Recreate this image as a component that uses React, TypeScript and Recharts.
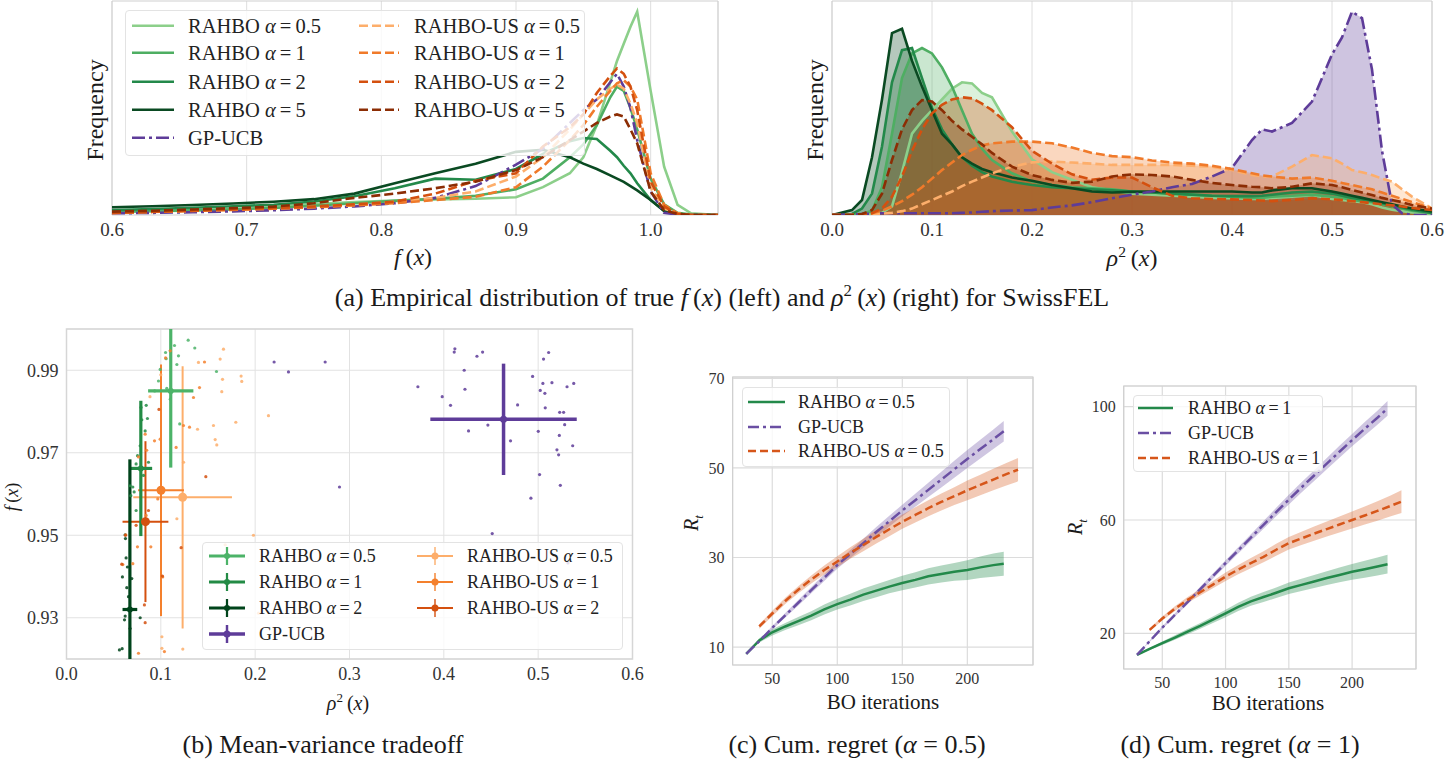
import React from 'react';
import { ComposedChart, Line, Area, Scatter, ErrorBar, XAxis, YAxis, CartesianGrid, ReferenceArea } from 'recharts';

const SERIF = "'Liberation Serif', 'Times New Roman', Tinos, 'DejaVu Serif', serif";

// ---------- (a) left: distribution of f(x) ----------
const fGrid = [0.6, 0.63, 0.66, 0.69, 0.72, 0.75, 0.78, 0.81, 0.84, 0.87, 0.9, 0.92, 0.94, 0.95, 0.96, 0.97, 0.975, 0.98, 0.985, 0.99, 1.0, 1.01, 1.02, 1.03, 1.05];
const fRahbo05 = [1.6, 1.9, 2.0, 2.6, 3.6, 5.1, 6.1, 6.7, 7.3, 7.6, 8.3, 13, 19.5, 27, 42, 62, 72, 80, 88, 95, 58, 22.6, 4.7, 0.8, 0];
const fRahbo1 = [1.5, 1.8, 2.2, 2.7, 3.3, 4.3, 5.5, 6.6, 7.6, 9, 12, 17, 27, 33, 42, 55, 60, 58, 50, 40, 17, 5, 1, 0.2, 0];
const fRahbo2 = [2.3, 2.8, 3.4, 4.1, 4.8, 6.3, 8.8, 12.5, 17, 16.5, 21.5, 28.5, 34.5, 36, 35.5, 30, 27, 23, 19.5, 14.8, 7, 2, 0.3, 0, 0];
const fRahbo5 = [3.6, 4.1, 4.7, 5.4, 6.2, 7.4, 10, 14.8, 19.5, 24, 29.5, 30.5, 27, 24, 21.5, 18.5, 17, 15.5, 13.5, 11.5, 7, 1.8, 0.3, 0, 0];
const fGpucb = [0.8, 1, 1.3, 1.7, 2.2, 3, 4, 5.5, 8, 13.5, 23.5, 31, 43, 49, 54, 62, 66, 60, 50, 35, 11, 1, 0.2, 0, 0];
const fUs05 = [1, 1.5, 2, 2.5, 3, 3.8, 4.8, 6.2, 8, 11, 18, 27, 40, 47, 54, 59, 61, 59, 52, 43, 13, 3, 0.8, 0, 0];
const fUs1 = [1, 1.4, 1.9, 2.4, 2.9, 3.6, 4.5, 5.5, 7, 8.5, 13, 22.6, 35, 42, 50.6, 58, 61.5, 63, 60, 54, 19.5, 4.7, 0.8, 0, 0];
const fUs2 = [1, 1.5, 2.1, 2.7, 3.3, 4, 5, 6.2, 10, 16, 19.5, 32, 41, 47, 57, 65, 68.5, 66, 60, 49, 15.6, 4, 0.5, 0, 0];
const fUs5 = [1.6, 2, 2.6, 3.2, 3.9, 5.5, 8, 10, 12.5, 15.6, 21, 27, 35, 39, 43, 46, 47, 46, 40, 33.5, 11, 2.3, 0.5, 0, 0];
const fTicks = [0.6, 0.7, 0.8, 0.9, 1.0];

// ---------- (a) right: distribution of rho^2(x) ----------
const rGrid = [0, 0.02, 0.03, 0.04, 0.05, 0.06, 0.07, 0.08, 0.09, 0.1, 0.11, 0.12, 0.13, 0.14, 0.15, 0.16, 0.18, 0.2, 0.22, 0.24, 0.26, 0.28, 0.3, 0.32, 0.34, 0.36, 0.38, 0.4, 0.42, 0.43, 0.44, 0.46, 0.48, 0.5, 0.51, 0.52, 0.53, 0.54, 0.55, 0.56, 0.57, 0.58, 0.6];
const rRahbo05 = [0, 0, 0, 0.3, 1, 4, 20, 38, 44, 49, 54, 59, 62, 61.5, 57, 55, 39, 26, 20, 16.5, 13, 11.5, 10, 9.5, 9, 8.5, 8, 7.8, 7.5, 7.5, 8, 8.5, 9.3, 7.5, 7, 6.5, 6, 5, 3.5, 2.5, 1.8, 1.2, 0.5];
const rRahbo1 = [0, 0, 0.5, 2, 13, 38, 64, 75.5, 78, 75.5, 69, 60, 49, 38, 31, 25.7, 19.5, 15.6, 14, 13, 12.5, 12, 11, 10.5, 10, 9.5, 9, 8.6, 8, 8, 8.5, 9, 9.5, 8.5, 8, 7, 6.5, 6, 5, 4, 3, 2, 0.8];
const rRahbo2 = [0, 0.5, 3, 10, 32, 62, 77, 78, 64, 50, 40, 33, 27, 23, 20, 18, 15.5, 14, 13, 12.5, 12, 11.5, 11, 10.5, 10, 9.5, 9, 8.8, 8.8, 9, 9.5, 10.5, 11, 10, 9, 8, 7.3, 6.5, 5.5, 4.5, 3.5, 2.5, 1];
const rRahbo5 = [0, 2.3, 7, 27, 54, 85, 87, 72, 60, 49, 38, 33, 27, 24, 21.5, 20, 17.5, 16, 14, 12.5, 11, 10.5, 10.8, 11, 11, 11, 11, 11, 10.5, 10.5, 11.5, 12.5, 12.5, 11, 10, 9, 8, 7, 6, 5, 4, 3, 1.6];
const rGpucb = [0, 0.3, 0.5, 0.6, 0.8, 0.8, 0.8, 0.8, 0.8, 0.8, 0.8, 0.8, 1, 1.2, 1.5, 1.8, 2.1, 2.3, 3.5, 4.5, 6, 7.8, 9.5, 11, 13, 14.5, 18, 22, 35, 40, 39, 43, 53, 75, 83, 95, 92, 68, 30, 5, 0.8, 0, 0];
const rUs05 = [0, 0, 0, 0.3, 0.6, 1, 1.8, 3, 5, 7, 9, 11, 13.5, 15.6, 17.5, 19.5, 22.6, 24.6, 25, 24.5, 24, 23.4, 23.4, 23.4, 23.4, 23, 22.6, 21, 18.7, 18, 18, 22.6, 28, 26.5, 24, 21, 20, 18.7, 17, 15.6, 12, 8.6, 3];
const rUs1 = [0, 0, 0.3, 0.8, 2, 4, 6.5, 9.5, 13, 17, 21, 24.5, 28, 30.5, 32.5, 33.5, 34.3, 34.3, 33.5, 31.5, 29, 27.5, 27, 25.5, 24.5, 24, 23, 21.5, 19.5, 18.5, 18, 17, 17.5, 16, 15, 14, 13, 12, 10.5, 9, 7.5, 6, 3];
const rUs2 = [0, 0, 0.3, 0.8, 3, 8.6, 18, 30, 40, 47.5, 51.5, 54, 55, 54.5, 52, 49, 41, 30, 24, 19, 16.5, 17.5, 17.5, 13, 9, 7.8, 7.5, 7.3, 7, 6.8, 6.5, 7, 7.8, 7.3, 7, 6.5, 6, 5.5, 5, 4.5, 4, 3.3, 2.3];
const rUs5 = [0, 0, 0.5, 2.3, 10, 25.7, 40, 49, 53.7, 53, 49, 44, 40, 36.6, 33, 29, 22.6, 18.7, 16.4, 15, 15.6, 18, 19, 18.7, 18, 16.4, 15, 14, 13.2, 13, 12.5, 13.2, 14.8, 14, 13, 11.7, 10.5, 9.3, 8, 7, 6, 4.7, 3];
const rTicks = [0, 0.1, 0.2, 0.3, 0.4, 0.5, 0.6];

// ---------- (b) mean-variance tradeoff ----------
const mvMeanX = [0.1105, 0.0788, 0.0672, 0.4633, 0.1231, 0.1002, 0.0837];
const mvMeanY = [0.985, 0.9662, 0.932, 0.9781, 0.9592, 0.9609, 0.9533];
const mvErrX = [0.024, 0.012, 0.0078, 0.0776, 0.0523, 0.0243, 0.0243];
const mvErrY = [[0.0186, 0.015], [0.0164, 0.0164], [0.012, 0.0364], [0.0135, 0.0135], [0.0318, 0.0318], [0.0305, 0.0305], [0.0195, 0.0195]];

const dotsRahbo05 = [[0.129, 0.9973], [0.136, 0.9954], [0.1145, 0.996], [0.11, 0.9947], [0.1187, 0.9935], [0.105, 0.9943], [0.159, 0.9897], [0.117, 0.9914], [0.0975, 0.9874], [0.1063, 0.9856], [0.11, 0.983], [0.1056, 0.9928], [0.0993, 0.9902], [0.0935, 0.985], [0.12, 0.977]];
const dotsRahbo1 = [[0.0858, 0.9783], [0.0834, 0.9753], [0.0798, 0.978], [0.0781, 0.9717], [0.0753, 0.9693], [0.0738, 0.9673], [0.0703, 0.9617], [0.0717, 0.9605], [0.0738, 0.956], [0.0869, 0.9677], [0.0816, 0.9645], [0.0682, 0.9596], [0.0674, 0.962], [0.079, 0.981], [0.0845, 0.9815]];
const dotsRahbo2 = [[0.0622, 0.9501], [0.0625, 0.9492], [0.0632, 0.9445], [0.0646, 0.9423], [0.0593, 0.9399], [0.0639, 0.9373], [0.0622, 0.9304], [0.0615, 0.9295], [0.0781, 0.93], [0.0561, 0.9222], [0.0674, 0.9274], [0.0657, 0.9351], [0.0692, 0.9395], [0.059, 0.9225]];
const dotsUs05 = [[0.1664, 0.9951], [0.1399, 0.9919], [0.1629, 0.9927], [0.1851, 0.9886], [0.1858, 0.9873], [0.1654, 0.9878], [0.1646, 0.9848], [0.1795, 0.9774], [0.1558, 0.9766], [0.1576, 0.9732], [0.1593, 0.9719], [0.2141, 0.979], [0.1982, 0.95], [0.117, 0.954], [0.1241, 0.9677], [0.1011, 0.9254], [0.2035, 0.9311], [0.1682, 0.9477], [0.1389, 0.9757], [0.1011, 0.9226], [0.1233, 0.9224], [0.1, 0.9889], [0.0885, 0.9836]];
const dotsUs1 = [[0.1463, 0.992], [0.1346, 0.9834], [0.141, 0.9858], [0.1304, 0.9762], [0.124, 0.9766], [0.1162, 0.9713], [0.0993, 0.9733], [0.0933, 0.9729], [0.0834, 0.9745], [0.085, 0.9706], [0.0763, 0.969], [0.0968, 0.9588], [0.0844, 0.9548], [0.0894, 0.9472], [0.0752, 0.9472], [0.0597, 0.9429], [0.0703, 0.9431], [0.0628, 0.9501], [0.1038, 0.9218], [0.0763, 0.9214], [0.102, 0.9399], [0.11, 0.9947], [0.105, 0.993]];
const dotsUs2 = [[0.1477, 0.9642], [0.1215, 0.947], [0.1017, 0.9401], [0.0834, 0.9288], [0.0586, 0.943], [0.0826, 0.9331], [0.0738, 0.9524], [0.0869, 0.956], [0.0625, 0.95], [0.098, 0.9805]];
const dotsGpucb = [[0.2201, 0.992], [0.2353, 0.9896], [0.2742, 0.992], [0.2894, 0.9617], [0.3725, 0.986], [0.3983, 0.9836], [0.4071, 0.9815], [0.4117, 0.9952], [0.411, 0.9944], [0.4216, 0.99], [0.4224, 0.9854], [0.4262, 0.9753], [0.4351, 0.9934], [0.4411, 0.9944], [0.4467, 0.9767], [0.4513, 0.9504], [0.4707, 0.9729], [0.4782, 0.9816], [0.4923, 0.959], [0.4941, 0.9885], [0.5001, 0.9752], [0.5015, 0.9647], [0.5057, 0.9927], [0.5111, 0.9943], [0.5075, 0.9809], [0.5022, 0.9851], [0.505, 0.9868], [0.5071, 0.9844], [0.5146, 0.987], [0.5199, 0.9707], [0.5217, 0.9695], [0.5224, 0.9742], [0.5228, 0.9798], [0.5235, 0.9621], [0.527, 0.9798], [0.5281, 0.9768], [0.5306, 0.986], [0.5366, 0.9717], [0.5377, 0.9868], [0.5316, 0.9433]];

// ---------- (c) / (d) cumulative regret ----------
const itersA = [30, 40, 50, 60, 70, 80, 90, 100, 110, 120, 130, 140, 150, 160, 170, 180, 190, 200, 210, 220, 228];
const itersUS = [40, 50, 60, 70, 80, 90, 100, 110, 120, 130, 140, 150, 160, 170, 180, 190, 200, 210, 220, 230, 239];

const cRahbo = [8.5, 11.5, 13.3, 14.6, 15.8, 17.0, 18.4, 19.6, 20.6, 21.7, 22.6, 23.5, 24.3, 25.0, 25.8, 26.3, 26.8, 27.2, 27.8, 28.3, 28.6];
const cRahboBand = [0, 0.5, 0.7, 0.8, 0.9, 1.0, 1.1, 1.2, 1.3, 1.4, 1.45, 1.5, 1.6, 1.7, 1.8, 1.9, 2.0, 2.2, 2.4, 2.6, 2.7];
const cGpucb = [8.5, 11.3, 14.3, 17.1, 19.9, 22.7, 25.5, 28.3, 30.8, 33.2, 35.7, 38.1, 40.5, 42.8, 45.1, 47.4, 49.7, 52.0, 54.2, 56.4, 58.2];
const cGpucbBand = [0, 0.3, 0.4, 0.5, 0.6, 0.7, 0.75, 0.8, 0.9, 1.0, 1.1, 1.2, 1.3, 1.45, 1.6, 1.75, 1.9, 2.0, 2.1, 2.2, 2.3];
const cUs = [14.6, 17.5, 20.3, 22.8, 25.1, 27.2, 29.1, 31.0, 32.8, 34.6, 36.3, 38.0, 39.5, 41.0, 42.4, 43.7, 45.0, 46.2, 47.4, 48.6, 49.6];
const cUsBand = [0.5, 0.6, 0.7, 0.8, 0.9, 1.0, 1.2, 1.3, 1.4, 1.5, 1.55, 1.6, 1.7, 1.8, 1.9, 2.0, 2.2, 2.3, 2.4, 2.5, 2.6];

const dRahbo = [12.4, 14.5, 16.5, 18.5, 20.6, 22.6, 24.8, 27.0, 29.3, 31.3, 32.8, 34.3, 35.9, 37.1, 38.3, 39.5, 40.6, 41.7, 42.6, 43.6, 44.4];
const dRahboBand = [0, 0.4, 0.6, 0.8, 0.9, 1.0, 1.15, 1.3, 1.45, 1.6, 1.75, 1.85, 2.0, 2.15, 2.3, 2.45, 2.6, 2.8, 3.0, 3.2, 3.3];
const dGpucb = [12.4, 17.2, 22.0, 26.5, 31.0, 35.6, 40.2, 44.8, 49.3, 53.8, 58.3, 62.8, 67.2, 71.5, 75.7, 79.9, 84.1, 88.2, 92.2, 96.1, 99.4];
const dGpucbBand = [0, 0.3, 0.45, 0.6, 0.7, 0.8, 0.9, 1.0, 1.1, 1.2, 1.35, 1.5, 1.7, 1.8, 1.9, 2.0, 2.1, 2.2, 2.35, 2.5, 2.6];
const dUs = [21.2, 25.2, 28.7, 31.8, 34.5, 37.2, 40.0, 42.5, 44.8, 47.0, 49.5, 51.8, 53.5, 55.2, 56.8, 58.4, 60.0, 61.6, 63.2, 64.9, 66.5];
const dUsBand = [0.5, 0.7, 0.85, 1.0, 1.15, 1.3, 1.5, 1.65, 1.8, 1.95, 2.1, 2.2, 2.35, 2.5, 2.65, 2.8, 3.0, 3.2, 3.45, 3.7, 4.0];

// ---------- styling ----------
const DASH = '9 4';
const DASHDOT = '13 4 3 4';

const topSeries = [
  { key: 'r05', name: 'RAHBO', alpha: '0.5', color: '#8ccf8a', dash: undefined, f: fRahbo05, r: rRahbo05 },
  { key: 'r1', name: 'RAHBO', alpha: '1', color: '#4eae62', dash: undefined, f: fRahbo1, r: rRahbo1 },
  { key: 'r2', name: 'RAHBO', alpha: '2', color: '#23894a', dash: undefined, f: fRahbo2, r: rRahbo2 },
  { key: 'r5', name: 'RAHBO', alpha: '5', color: '#0a4a22', dash: undefined, f: fRahbo5, r: rRahbo5 },
  { key: 'gp', name: 'GP-UCB', alpha: '', color: '#5e3c99', dash: DASHDOT, f: fGpucb, r: rGpucb },
  { key: 'u05', name: 'RAHBO-US', alpha: '0.5', color: '#fdae6b', dash: DASH, f: fUs05, r: rUs05 },
  { key: 'u1', name: 'RAHBO-US', alpha: '1', color: '#f07a2a', dash: DASH, f: fUs1, r: rUs1 },
  { key: 'u2', name: 'RAHBO-US', alpha: '2', color: '#d4500f', dash: DASH, f: fUs2, r: rUs2 },
  { key: 'u5', name: 'RAHBO-US', alpha: '5', color: '#8c2d04', dash: DASH, f: fUs5, r: rUs5 },
];

const fTable = fGrid.map((x, i) => {
  const row: any = { x };
  topSeries.forEach((s) => (row[s.key] = s.f[i]));
  return row;
});
const rTable = rGrid.map((x, i) => {
  const row: any = { x };
  topSeries.forEach((s) => (row[s.key] = s.r[i]));
  return row;
});

const mvSeries = [
  { name: 'RAHBO', alpha: '0.5', color: '#4cb368', sw: 3.2, r: 3, dots: dotsRahbo05 },
  { name: 'RAHBO', alpha: '1', color: '#238b45', sw: 3.2, r: 3, dots: dotsRahbo1 },
  { name: 'RAHBO', alpha: '2', color: '#00441b', sw: 3.2, r: 3, dots: dotsRahbo2 },
  { name: 'GP-UCB', alpha: '', color: '#5e3c99', sw: 3.5, r: 3.5, dots: dotsGpucb },
  { name: 'RAHBO-US', alpha: '0.5', color: '#fdae6b', sw: 2, r: 4.5, dots: dotsUs05 },
  { name: 'RAHBO-US', alpha: '1', color: '#f4802d', sw: 2, r: 4.5, dots: dotsUs1 },
  { name: 'RAHBO-US', alpha: '2', color: '#d4500f', sw: 2, r: 4.5, dots: dotsUs2 },
];

const GREEN = '#23894a';
const PURPLE = '#6a4fa3';
const ORANGE = '#d6561a';

const band = (xs: number[], mean: number[], hw: number[]) =>
  xs.map((x, i) => ({ x, y: mean[i], range: [mean[i] - hw[i], mean[i] + hw[i]] }));

const tick = (size: number) => ({ fontFamily: SERIF, fontSize: size, fill: '#333' });

const Alpha = ({ a }: { a: string }) =>
  a ? (
    <>
      {' '}
      <i>α</i>
      {'\u2009=\u2009'}
      {a}
    </>
  ) : null;

function LineSample({ color, dash, w, sw = 2.5 }: any) {
  return (
    <svg width={w} height={12} style={{ display: 'block' }}>
      <line x1={0} y1={6} x2={w} y2={6} stroke={color} strokeWidth={sw} strokeDasharray={dash} />
    </svg>
  );
}

function ErrSample({ color, sw, r }: any) {
  return (
    <svg width={38} height={22} style={{ display: 'block' }}>
      <line x1={1} y1={11} x2={37} y2={11} stroke={color} strokeWidth={sw} />
      <line x1={19} y1={2} x2={19} y2={20} stroke={color} strokeWidth={sw * 0.7} />
      <circle cx={19} cy={11} r={Math.min(r, 3.5)} fill={color} />
    </svg>
  );
}

function Entry({ x, y, gap, size, sample, children }: any) {
  return (
    <div style={{ position: 'absolute', left: x, top: y, transform: 'translateY(-50%)', display: 'flex', alignItems: 'center', whiteSpace: 'nowrap', fontSize: size, color: '#222', lineHeight: 1, fontFamily: SERIF }}>
      {sample}
      <span style={{ marginLeft: gap }}>{children}</span>
    </div>
  );
}

function Box({ x, y, w, h }: any) {
  return (
    <div style={{ position: 'absolute', left: x, top: y, width: w, height: h, background: 'rgba(255,255,255,0.8)', border: '1px solid #e3e3e3', borderRadius: 4, boxSizing: 'border-box' }} />
  );
}

function Txt({ x, y, size, rotate, children }: any) {
  return (
    <div style={{ position: 'absolute', left: x, top: y, transform: `translate(-50%, -50%)${rotate ? ' rotate(-90deg)' : ''}`, fontSize: size, whiteSpace: 'nowrap', lineHeight: 1, color: '#1a1a1a', fontFamily: SERIF }}>
      {children}
    </div>
  );
}

const FX = () => (
  <>
    <i>f</i>&thinsp;(<i>x</i>)
  </>
);
const RHO = () => (
  <>
    <i>ρ</i>
    <sup style={{ fontSize: '0.65em' }}>2</sup>&thinsp;(<i>x</i>)
  </>
);

function TopLeft() {
  return (
    <ComposedChart width={730} height={270} data={fTable} margin={{ top: 1, right: 12, bottom: 15, left: 112 }}>
      <CartesianGrid horizontal={false} stroke="#dedede" />
      <XAxis type="number" dataKey="x" domain={[0.6, 1.05]} ticks={fTicks} interval={0} tickFormatter={(v) => v.toFixed(1)} allowDataOverflow axisLine={false} tickLine={false} height={40} tick={tick(19)} />
      <YAxis hide type="number" domain={[0, 100]} allowDataOverflow />
      <ReferenceArea x1={0.6} x2={1.05} y1={0} y2={100} fill="none" stroke="#cfcfcf" ifOverflow="visible" />
      {topSeries.map((s) => (
        <Line key={s.key} type="linear" dataKey={s.key} stroke={s.color} strokeWidth={2.6} strokeDasharray={s.dash} dot={false} activeDot={false} isAnimationActive={false} />
      ))}
    </ComposedChart>
  );
}

function TopRight() {
  return (
    <ComposedChart width={726} height={270} data={rTable} margin={{ top: 1, right: 14, bottom: 15, left: 112 }}>
      <CartesianGrid horizontal={false} stroke="#dedede" />
      <XAxis type="number" dataKey="x" domain={[0, 0.6]} ticks={rTicks} interval={0} tickFormatter={(v) => v.toFixed(1)} allowDataOverflow axisLine={false} tickLine={false} height={40} tick={tick(19)} />
      <YAxis hide type="number" domain={[0, 100]} allowDataOverflow />
      <ReferenceArea x1={0} x2={0.6} y1={0} y2={100} fill="none" stroke="#cfcfcf" ifOverflow="visible" />
      {topSeries.map((s) => (
        <Area key={'a' + s.key} type="linear" dataKey={s.key} stroke="none" fill={s.color} fillOpacity={0.3} dot={false} activeDot={false} isAnimationActive={false} />
      ))}
      {topSeries.map((s) => (
        <Line key={s.key} type="linear" dataKey={s.key} stroke={s.color} strokeWidth={2.6} strokeDasharray={s.dash} dot={false} activeDot={false} isAnimationActive={false} />
      ))}
    </ComposedChart>
  );
}

function MeanVariance() {
  return (
    <ComposedChart width={650} height={470} margin={{ top: 39, right: 17.5, bottom: 71, left: 6.5 }}>
      <CartesianGrid stroke="#e2e2e2" />
      <XAxis type="number" dataKey="x" domain={[0, 0.6]} ticks={rTicks} interval={0} tickFormatter={(v) => v.toFixed(1)} allowDataOverflow axisLine={false} tickLine={false} height={30} tick={tick(18)} />
      <YAxis type="number" dataKey="y" domain={[0.92, 1.0]} ticks={[0.93, 0.95, 0.97, 0.99]} interval={0} tickFormatter={(v) => v.toFixed(2)} allowDataOverflow axisLine={false} tickLine={false} width={60} tick={tick(18)} />
      <ReferenceArea x1={0} x2={0.6} y1={0.92} y2={1.0} fill="none" stroke="#d6d6d6" strokeWidth={1.5} ifOverflow="visible" />
      {mvSeries.map((s, i) => (
        <Scatter key={'d' + i} data={s.dots.map(([x, y]) => ({ x, y }))} isAnimationActive={false}
          shape={(p: any) => <circle cx={p.cx} cy={p.cy} r={1.6} fill={s.color} fillOpacity={0.85} />} />
      ))}
      {[4, 5, 6, 0, 1, 2, 3].map((i) => {
        const s = mvSeries[i];
        return (
          <Scatter key={'m' + i} data={[{ x: mvMeanX[i], y: mvMeanY[i], ex: mvErrX[i], ey: mvErrY[i] }]} isAnimationActive={false}
            shape={(p: any) => <circle cx={p.cx} cy={p.cy} r={s.r} fill={s.color} />}>
            <ErrorBar dataKey="ex" direction="x" width={0} stroke={s.color} strokeWidth={s.sw} />
            <ErrorBar dataKey="ey" direction="y" width={0} stroke={s.color} strokeWidth={s.sw} />
          </Scatter>
        );
      })}
    </ComposedChart>
  );
}

function Regret({ width, margin, yDomain, yTicks, yWidth, green, greenBand, purple, purpleBand, orange, orangeBand }: any) {
  const g = band(itersA, green, greenBand);
  const p = band(itersA, purple, purpleBand);
  const o = band(itersUS, orange, orangeBand);
  return (
    <ComposedChart width={width} height={400} margin={margin}>
      <CartesianGrid stroke="#dcdcdc" strokeWidth={1.2} />
      <XAxis type="number" dataKey="x" domain={[19.5, 250.5]} ticks={[50, 100, 150, 200]} interval={0} allowDataOverflow axisLine={false} tickLine={false} height={30} tick={tick(16)} />
      <YAxis type="number" domain={yDomain} ticks={yTicks} interval={0} allowDataOverflow axisLine={false} tickLine={false} width={yWidth} tick={tick(16)} />
      <ReferenceArea x1={19.5} x2={250.5} y1={yDomain[0]} y2={yDomain[1]} fill="none" stroke="#d0d0d0" strokeWidth={1.2} ifOverflow="visible" />
      <Area data={g} dataKey="range" type="linear" stroke="none" fill={GREEN} fillOpacity={0.35} isAnimationActive={false} />
      <Area data={p} dataKey="range" type="linear" stroke="none" fill={PURPLE} fillOpacity={0.32} isAnimationActive={false} />
      <Area data={o} dataKey="range" type="linear" stroke="none" fill={ORANGE} fillOpacity={0.32} isAnimationActive={false} />
      <Line data={g} dataKey="y" type="linear" stroke={GREEN} strokeWidth={2.5} dot={false} activeDot={false} isAnimationActive={false} />
      <Line data={p} dataKey="y" type="linear" stroke={PURPLE} strokeWidth={2.5} strokeDasharray="11 4 3 4" dot={false} activeDot={false} isAnimationActive={false} />
      <Line data={o} dataKey="y" type="linear" stroke={ORANGE} strokeWidth={2.5} strokeDasharray="8 4" dot={false} activeDot={false} isAnimationActive={false} />
    </ComposedChart>
  );
}

export default function App() {
  const topRows = [26, 53, 82, 110, 138];
  const mvRows = [556, 582, 608, 634];
  return (
    <div style={{ position: 'absolute', left: 0, top: 0, width: 1446, height: 770, background: '#fff', fontFamily: SERIF, overflow: 'hidden' }}>
      <div style={{ position: 'absolute', left: 0, top: 0 }}><TopLeft /></div>
      <div style={{ position: 'absolute', left: 720, top: 0 }}><TopRight /></div>
      <div style={{ position: 'absolute', left: 0, top: 290 }}><MeanVariance /></div>
      <div style={{ position: 'absolute', left: 680, top: 340 }}>
        <Regret width={370} margin={{ top: 37, right: 17, bottom: 45, left: 12.6 }} yDomain={[6, 70.3]} yTicks={[10, 30, 50, 70]} yWidth={40}
          green={cRahbo} greenBand={cRahboBand} purple={cGpucb} purpleBand={cGpucbBand} orange={cUs} orangeBand={cUsBand} />
      </div>
      <div style={{ position: 'absolute', left: 1070, top: 340 }}>
        <Regret width={370} margin={{ top: 46, right: 24, bottom: 41, left: 8.7 }} yDomain={[7.4, 107.3]} yTicks={[20, 60, 100]} yWidth={45}
          green={dRahbo} greenBand={dRahboBand} purple={dGpucb} purpleBand={dGpucbBand} orange={dUs} orangeBand={dUsBand} />
      </div>

      {/* top-left legend */}
      <Box x={125} y={10} w={460} h={146} />
      {topSeries.slice(0, 5).map((s, i) => (
        <Entry key={s.key} x={132} y={topRows[i]} gap={14} size={20.5} sample={<LineSample color={s.color} dash={s.dash} w={42} />}>
          {s.name}<Alpha a={s.alpha} />
        </Entry>
      ))}
      {topSeries.slice(5).map((s, i) => (
        <Entry key={s.key} x={359} y={topRows[i]} gap={15} size={20.5} sample={<LineSample color={s.color} dash={s.dash} w={40} />}>
          {s.name}<Alpha a={s.alpha} />
        </Entry>
      ))}

      {/* mean-variance legend */}
      <Box x={202} y={542} w={421} h={108} />
      {mvSeries.slice(0, 4).map((s, i) => (
        <Entry key={'l' + i} x={208} y={mvRows[i]} gap={13} size={18} sample={<ErrSample color={s.color} sw={s.sw} r={s.r} />}>
          {s.name}<Alpha a={s.alpha} />
        </Entry>
      ))}
      {mvSeries.slice(4).map((s, i) => (
        <Entry key={'r' + i} x={416} y={mvRows[i]} gap={13} size={18} sample={<ErrSample color={s.color} sw={s.sw} r={s.r} />}>
          {s.name}<Alpha a={s.alpha} />
        </Entry>
      ))}

      {/* regret legends */}
      <Box x={742} y={387} w={208} h={80} />
      <Entry x={748} y={402} gap={13} size={18} sample={<LineSample color={GREEN} w={37} />}>RAHBO<Alpha a="0.5" /></Entry>
      <Entry x={748} y={427} gap={13} size={18} sample={<LineSample color={PURPLE} dash="11 4 3 4" w={37} />}>GP-UCB</Entry>
      <Entry x={748} y={451} gap={13} size={18} sample={<LineSample color={ORANGE} dash="8 4" w={37} />}>RAHBO-US<Alpha a="0.5" /></Entry>

      <Box x={1133} y={395} w={190} h={77} />
      <Entry x={1138} y={408} gap={15} size={18} sample={<LineSample color={GREEN} w={35} />}>RAHBO<Alpha a="1" /></Entry>
      <Entry x={1138} y={433} gap={15} size={18} sample={<LineSample color={PURPLE} dash="11 4 3 4" w={35} />}>GP-UCB</Entry>
      <Entry x={1138} y={458} gap={15} size={18} sample={<LineSample color={ORANGE} dash="8 4" w={35} />}>RAHBO-US<Alpha a="1" /></Entry>

      {/* axis labels */}
      <Txt x={95} y={110} size={24} rotate>Frequency</Txt>
      <Txt x={815} y={110} size={24} rotate>Frequency</Txt>
      <Txt x={413} y={257} size={24}><FX /></Txt>
      <Txt x={1132} y={257} size={24}><RHO /></Txt>
      <Txt x={12} y={497} size={18} rotate><FX /></Txt>
      <Txt x={348} y={702} size={20}><RHO /></Txt>
      <Txt x={693} y={523} size={20} rotate><i>R</i><sub style={{ fontSize: '0.65em' }}><i>t</i></sub></Txt>
      <Txt x={1077} y={527} size={20} rotate><i>R</i><sub style={{ fontSize: '0.65em' }}><i>t</i></sub></Txt>
      <Txt x={883} y={702} size={21}>BO iterations</Txt>
      <Txt x={1268} y={703} size={21}>BO iterations</Txt>

      {/* captions */}
      <Txt x={722} y={297} size={26}>(a) Empirical distribution of true <FX /> (left) and <RHO /> (right) for SwissFEL</Txt>
      <Txt x={323} y={745} size={26}>(b) Mean-variance tradeoff</Txt>
      <Txt x={857} y={745} size={26}>(c) Cum. regret (<i>α</i> = 0.5)</Txt>
      <Txt x={1240} y={745} size={26}>(d) Cum. regret (<i>α</i> = 1)</Txt>
    </div>
  );
}
